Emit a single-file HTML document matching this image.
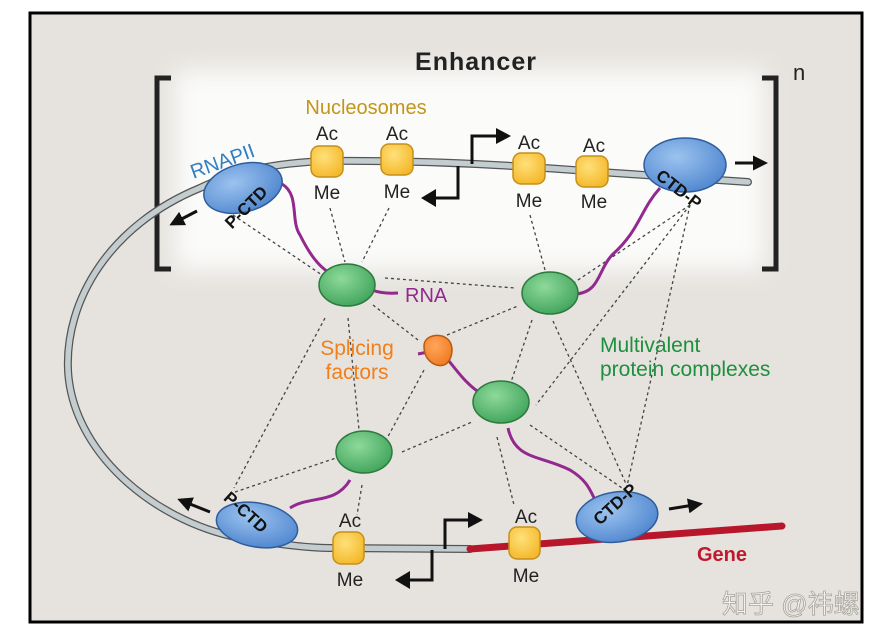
<!DOCTYPE html>
<html><head><meta charset="utf-8"><style>
html,body{margin:0;padding:0;background:#fff;}
svg{display:block;}
text{font-family:"Liberation Sans","Noto Sans CJK SC",sans-serif;}
</style></head><body>
<svg width="881" height="639" viewBox="0 0 881 639" xmlns="http://www.w3.org/2000/svg">
<defs>
<radialGradient id="gg" cx="40%" cy="35%" r="70%"><stop offset="0" stop-color="#8ed99a"/><stop offset="1" stop-color="#3fa35a"/></radialGradient>
<radialGradient id="bg" cx="40%" cy="35%" r="70%"><stop offset="0" stop-color="#9cc3ef"/><stop offset="1" stop-color="#4f86cf"/></radialGradient>
<radialGradient id="yg" cx="40%" cy="35%" r="70%"><stop offset="0" stop-color="#ffe07a"/><stop offset="1" stop-color="#f4b82a"/></radialGradient>
<radialGradient id="og" cx="40%" cy="35%" r="70%"><stop offset="0" stop-color="#ffa65a"/><stop offset="1" stop-color="#ef7a22"/></radialGradient>
<filter id="blur"><feGaussianBlur stdDeviation="12"/></filter>
<marker id="ah" viewBox="0 0 10 10" refX="8" refY="5" markerWidth="5" markerHeight="5" orient="auto"><path d="M0,0 L10,5 L0,10 z" fill="#111"/></marker>
</defs>
<rect x="30" y="13" width="832" height="609" fill="#e6e3de" stroke="#000" stroke-width="3"/>
<rect x="175" y="70" width="590" height="200" fill="#fbfbfa" filter="url(#blur)"/>
<path d="M171 78 H157 V269 H171" fill="none" stroke="#222" stroke-width="5"/>
<path d="M762 78 H776 V269 H762" fill="none" stroke="#222" stroke-width="5"/>
<text x="793" y="80" font-size="22" fill="#222">n</text>
<text x="476" y="70" font-size="25" font-weight="bold" fill="#222" text-anchor="middle" letter-spacing="1">Enhancer</text>
<text x="366" y="114" font-size="20" fill="#c39518" text-anchor="middle">Nucleosomes</text>
<path id="dna" d="M748 182 L600 172 Q450 160 330 161 Q250 163 200 188 C110 225 65 300 68 370 C72 450 150 520 240 538 Q300 548 330 548 L470 549" fill="none" stroke="#555" stroke-width="8" stroke-linecap="round"/>
<path d="M748 182 L600 172 Q450 160 330 161 Q250 163 200 188 C110 225 65 300 68 370 C72 450 150 520 240 538 Q300 548 330 548 L470 549" fill="none" stroke="#c3cdd0" stroke-width="5.5" stroke-linecap="round"/>
<path d="M470 549 L782 526" stroke="#b8172b" stroke-width="7" stroke-linecap="round"/>
<g stroke="#444" stroke-width="1.3" stroke-dasharray="3,3" fill="none">
<path d="M233 215 L322 275"/>
<path d="M330 208 L345 262"/>
<path d="M389 208 L362 262"/>
<path d="M385 278 L515 288"/>
<path d="M530 215 L545 270"/>
<path d="M690 205 L575 282"/>
<path d="M690 205 L536 405"/>
<path d="M690 205 L627 486"/>
<path d="M373 305 L418 340"/>
<path d="M325 318 L234 488"/>
<path d="M348 318 L360 440"/>
<path d="M447 335 L518 306"/>
<path d="M424 370 L385 442"/>
<path d="M235 492 L336 458"/>
<path d="M402 452 L472 422"/>
<path d="M362 485 L357 515"/>
<path d="M532 320 L510 385"/>
<path d="M553 321 L627 486"/>
<path d="M530 425 L625 490"/>
<path d="M497 437 L514 505"/>
</g>
<g stroke="#93288f" stroke-width="3" fill="none">
<path d="M282 184 C300 195 290 220 300 235 C310 255 318 265 328 272"/>
<path d="M372 290 Q382 294 398 293"/>
<path d="M576 294 C600 292 598 270 612 255 C640 230 640 210 660 188"/>
<path d="M418 354 L428 352"/>
<path d="M449 361 C460 375 468 385 480 393"/>
<path d="M508 428 C515 460 540 455 570 470 C595 485 590 500 602 507"/>
<path d="M350 480 C335 505 310 495 290 508"/>
</g>
<text x="405" y="302" font-size="20" fill="#93288f">RNA</text>
<g stroke="#c4901a" stroke-width="1.5" fill="url(#yg)">
<rect x="311" y="146" width="32" height="31" rx="8"/>
<rect x="381" y="144" width="32" height="31" rx="8"/>
<rect x="513" y="153" width="32" height="31" rx="8"/>
<rect x="576" y="156" width="32" height="31" rx="8"/>
<rect x="333" y="532" width="31" height="32" rx="8"/>
<rect x="509" y="527" width="31" height="32" rx="8"/>
</g>
<g font-size="19" fill="#222" text-anchor="middle">
<text x="327" y="140">Ac</text><text x="327" y="199">Me</text>
<text x="397" y="140">Ac</text><text x="397" y="198">Me</text>
<text x="529" y="149">Ac</text><text x="529" y="207">Me</text>
<text x="594" y="152">Ac</text><text x="594" y="208">Me</text>
<text x="350" y="527">Ac</text><text x="350" y="586">Me</text>
<text x="526" y="523">Ac</text><text x="526" y="582">Me</text>
</g>
<g stroke="#111" stroke-width="3" fill="none">
<path d="M472 164 V136 H496"/>
<path d="M458 166 V198 H436"/>
<path d="M445 549 V520 H468"/>
<path d="M432 550 V580 H410"/>
</g>
<g fill="#111">
<path d="M496 128 L511 136 L496 144 z"/>
<path d="M436 189 L421 198 L436 207 z"/>
<path d="M468 512 L483 520 L468 528 z"/>
<path d="M410 571 L395 580 L410 589 z"/>
</g>
<g stroke="#111" stroke-width="3" fill="none" marker-end="url(#ah)">
<path d="M197 211 L172 224"/>
<path d="M735 163 L765 163"/>
<path d="M210 512 L180 500"/>
<path d="M669 509 L700 504"/>
</g>
<g stroke="#2f5d9c" stroke-width="1.5" fill="url(#bg)">
<ellipse cx="243" cy="188" rx="40" ry="24" transform="rotate(-15 243 188)"/>
<ellipse cx="685" cy="165" rx="41" ry="27"/>
<ellipse cx="257" cy="525" rx="41" ry="22" transform="rotate(10 257 525)"/>
<ellipse cx="617" cy="517" rx="41" ry="25" transform="rotate(-8 617 517)"/>
</g>
<text x="222" y="168" font-size="20" fill="#2f7fc1" text-anchor="middle" transform="rotate(-20 222 160)">RNAPII</text>
<g font-size="17" font-weight="bold" fill="#111" text-anchor="middle">
<text x="246" y="213" transform="rotate(-45 246 207)">P-CTD</text>
<text x="679" y="195" transform="rotate(38 679 189)">CTD-P</text>
<text x="246" y="518" transform="rotate(42 246 512)">P-CTD</text>
<text x="615" y="510" transform="rotate(-42 615 504)">CTD-P</text>
</g>
<g stroke="#2d7a3e" stroke-width="1.5" fill="url(#gg)">
<ellipse cx="347" cy="285" rx="28" ry="21"/>
<ellipse cx="550" cy="293" rx="28" ry="21"/>
<ellipse cx="501" cy="402" rx="28" ry="21"/>
<ellipse cx="364" cy="452" rx="28" ry="21"/>
</g>
<path d="M424 346 C424 335 440 333 446 338 C454 342 454 358 446 364 C438 369 424 362 424 346 z" fill="url(#og)" stroke="#b85a12" stroke-width="1.5"/>
<g font-size="21" fill="#f07f1e" text-anchor="middle">
<text x="357" y="355">Splicing</text>
<text x="357" y="379">factors</text>
</g>
<g font-size="21" fill="#1e8f3e">
<text x="600" y="352">Multivalent</text>
<text x="600" y="376">protein complexes</text>
</g>
<text x="697" y="561" font-size="20" font-weight="bold" fill="#c0182c">Gene</text>
<text x="722" y="613" font-size="26" fill="#f4f2ee" stroke="#a8a49e" stroke-width="0.8">知乎 @祎螺</text>
</svg>
</body></html>
